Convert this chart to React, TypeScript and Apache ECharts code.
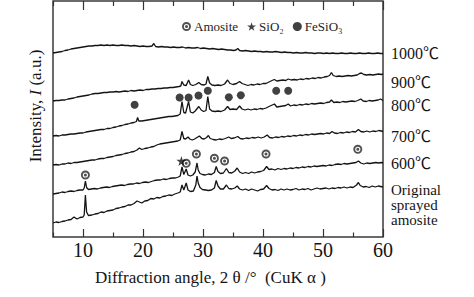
import React, { useEffect, useRef } from "react";
import * as echarts from "echarts";

// X-ray diffraction patterns of sprayed amosite heated to various temperatures.
// Each pattern is a list of [2θ (deg), intensity (a.u., stacked offset included)].

const original: number[][] = [
  [5, 14], [5.5, 15], [6, 14.5], [6.5, 15.5], [7, 16], [7.5, 17], [8, 17.5], [8.5, 20], [9, 18], [9.5, 19.5],
  [10, 20], [10.2, 22], [10.4, 42], [10.6, 25], [10.9, 21.5], [11.5, 22], [12, 23], [12.5, 23.5], [13, 25],
  [13.5, 24.5], [14, 26], [14.5, 26.5], [15, 27], [15.5, 28.5], [16, 29], [16.5, 30], [17, 30.5], [17.5, 32],
  [18, 32], [18.5, 33.5], [19, 36], [19.4, 35], [19.8, 34], [20.3, 36], [20.8, 36.5], [21.3, 38.5], [21.8, 38],
  [22.3, 39.5], [22.8, 39], [23.3, 40.5], [23.8, 41], [24.3, 42], [24.8, 41.5], [25.3, 43], [25.8, 44],
  [26.2, 45], [26.5, 52], [26.8, 47], [27.2, 54], [27.5, 47], [27.9, 45.5], [28.4, 46], [28.8, 52], [29.0, 61],
  [29.2, 54], [29.5, 49.5], [29.9, 47.5], [30.4, 47], [30.9, 46.5], [31.4, 47], [31.9, 49], [32.2, 56.5],
  [32.5, 51], [32.9, 48], [33.4, 48], [33.9, 52], [34.3, 48.5], [34.8, 48], [35.3, 49], [35.7, 51], [36.1, 48],
  [36.6, 47], [37.1, 48], [37.6, 46.5], [38.1, 48], [38.6, 47], [39.1, 46], [39.6, 47.5], [40.1, 48],
  [40.6, 51.5], [41.0, 48.5], [41.5, 47], [42, 47.5], [42.5, 46.5], [43, 48], [43.5, 47], [44, 48], [44.5, 47],
  [45, 47.5], [45.5, 48.5], [46, 47], [46.5, 48], [47, 47.5], [47.5, 48.5], [48, 47], [48.5, 48], [49, 49],
  [49.5, 48], [50, 48.5], [50.5, 49], [51, 48], [51.5, 49], [52, 48.5], [52.5, 49.5], [53, 49], [53.5, 50],
  [54, 49], [54.5, 50], [55, 49.5], [55.6, 52], [55.9, 54.5], [56.2, 51.5], [56.7, 50], [57.2, 50.5],
  [57.7, 49.5], [58.2, 51], [58.7, 50], [59.2, 51], [59.6, 50.5], [60, 50],
];

const t600: number[][] = [
  [5, 43], [5.5, 43.5], [6, 44], [6.5, 45], [7, 44.5], [7.5, 45.5], [8, 46], [8.5, 45.5], [9, 46.5], [9.5, 47],
  [10, 47], [10.2, 49], [10.4, 56], [10.6, 49.5], [10.9, 47.5], [11.4, 48], [11.9, 48.5], [12.4, 48], [12.9, 49],
  [13.4, 49.5], [13.9, 50], [14.4, 49.5], [14.9, 50.5], [15.4, 51], [15.9, 51.5], [16.4, 52], [16.9, 51.5],
  [17.4, 52.5], [17.9, 53], [18.4, 53], [18.9, 54], [19.4, 53.5], [19.9, 54.5], [20.4, 55], [20.9, 54.5],
  [21.4, 55.5], [21.9, 56.5], [22.4, 57], [22.9, 57], [23.4, 58], [23.9, 57.5], [24.4, 58.5], [24.9, 59],
  [25.4, 59], [25.9, 60], [26.2, 61], [26.5, 70], [26.8, 62.5], [27.2, 68], [27.5, 62], [27.9, 61], [28.3, 62],
  [28.7, 65], [29.0, 74], [29.2, 67], [29.5, 63.5], [29.9, 62.5], [30.4, 62], [30.9, 63], [31.4, 62.5],
  [31.9, 64.5], [32.2, 70.5], [32.5, 65.5], [32.9, 63.5], [33.4, 64], [33.9, 68.5], [34.3, 64.5], [34.8, 64],
  [35.3, 66], [35.7, 69], [36.1, 65], [36.6, 63.5], [37.1, 64.5], [37.6, 63.5], [38.1, 65], [38.6, 64],
  [39.1, 65], [39.6, 65.5], [40.1, 66.5], [40.6, 70.5], [41.0, 67.5], [41.5, 68], [42, 67], [42.5, 68.5],
  [43, 67.5], [43.5, 68.5], [44, 68], [44.5, 69], [45, 68.5], [45.5, 69.5], [46, 69], [46.5, 70], [47, 69.5],
  [47.5, 70.5], [48, 70], [48.5, 71], [49, 70.5], [49.5, 71], [50, 71.5], [50.5, 71], [51, 72], [51.5, 71.5],
  [52, 72.5], [52.5, 73], [53, 72.5], [53.5, 73.5], [54, 73], [54.5, 73.5], [55, 74], [55.5, 74.5], [55.9, 76],
  [56.3, 74], [56.8, 73], [57.3, 74], [57.8, 73.5], [58.3, 74], [58.8, 74.5], [59.3, 74], [59.7, 74.5], [60, 74],
];

const t700: number[][] = [
  [5, 72], [5.5, 72.5], [6, 72], [6.5, 73], [7, 73], [7.5, 74], [8, 73.5], [8.5, 74.5], [9, 74.5], [9.5, 75],
  [10, 75.5], [10.5, 76], [11, 76.5], [11.5, 77], [12, 77], [12.5, 78], [13, 78.5], [13.5, 78.5], [14, 79.5],
  [14.5, 80], [15, 80.5], [15.5, 81.5], [16, 82], [16.5, 82.5], [17, 83.5], [17.5, 84], [18, 85], [18.5, 85.5],
  [19, 87], [19.4, 89], [19.8, 87.5], [20.3, 88.5], [20.8, 89], [21.3, 90], [21.8, 90.5], [22.3, 92], [22.8, 93],
  [23.3, 93.5], [23.8, 94], [24.3, 94.5], [24.8, 95], [25.3, 95.5], [25.8, 96], [26.2, 97], [26.5, 105.5],
  [26.8, 98.5], [27.1, 98], [27.5, 100], [27.8, 98], [28.2, 97], [28.6, 98], [29.0, 99.5], [29.4, 101],
  [29.8, 98.5], [30.2, 98], [30.6, 99.5], [30.9, 101.5], [31.2, 98.5], [31.7, 97.5], [32.2, 97], [32.7, 98],
  [33.2, 97.5], [33.7, 98.5], [34.3, 100], [34.7, 98.5], [35.2, 99], [35.8, 100.5], [36.2, 98.5], [36.7, 98],
  [37.2, 99], [37.7, 98.5], [38.2, 99.5], [38.7, 99], [39.2, 100], [39.7, 99], [40.2, 100], [40.7, 102],
  [41.1, 99.5], [41.6, 99], [42.1, 100], [42.6, 99.5], [43.1, 100.5], [43.6, 100], [44.1, 101], [44.6, 100.5],
  [45.1, 101.5], [45.6, 101], [46.1, 102], [46.6, 101.5], [47.1, 102.5], [47.6, 102], [48.1, 103], [48.6, 102.5],
  [49.1, 103], [49.6, 103.5], [50.1, 103], [50.6, 104], [51.1, 103.5], [51.5, 105.5], [51.9, 104], [52.4, 103.5],
  [52.9, 104.5], [53.4, 104], [53.9, 105], [54.4, 104.5], [54.9, 105.5], [55.4, 105], [55.9, 107.5],
  [56.3, 105.5], [56.8, 105], [57.3, 106], [57.8, 105], [58.3, 106], [58.8, 105.5], [59.3, 106.5], [59.7, 106],
  [60, 105.5],
];

const t800: number[][] = [
  [5, 101], [5.5, 101.5], [6, 101], [6.5, 102], [7, 102], [7.5, 102.5], [8, 103], [8.5, 103], [9, 103.5],
  [9.5, 104], [10, 104], [10.5, 105], [11, 105.5], [11.5, 106], [12, 106.5], [12.5, 107], [13, 107.5],
  [13.5, 107.5], [14, 108.5], [14.5, 108.5], [15, 109.5], [15.5, 110], [16, 111], [16.5, 111.5], [17, 112.5],
  [17.5, 113], [18, 114], [18.5, 114.5], [18.9, 115.5], [19.1, 119.5], [19.3, 116], [19.8, 116], [20.3, 116.5],
  [20.8, 117], [21.3, 117.5], [21.8, 118], [22.3, 118.5], [22.8, 119], [23.3, 119.5], [23.8, 120], [24.3, 120.5],
  [24.8, 120.5], [25.3, 121], [25.8, 121.5], [26.2, 123], [26.5, 135.5], [26.8, 124.5], [27.1, 124],
  [27.6, 135.5], [27.9, 125], [28.3, 124], [28.7, 126], [29.3, 130.5], [29.7, 127], [30.1, 125.5], [30.5, 126.5],
  [30.8, 140.5], [31.1, 128], [31.5, 126], [32, 125.5], [32.5, 126], [33, 125.5], [33.6, 127], [34.1, 130.5],
  [34.5, 127.5], [35, 128], [35.6, 127.5], [36.1, 131], [36.5, 128], [37, 127], [37.5, 128], [38, 127],
  [38.5, 128], [39, 127.5], [39.5, 128.5], [40, 128], [40.5, 129], [41, 130.5], [41.9, 133], [42.3, 130],
  [42.8, 130.5], [43.3, 131], [43.8, 131.5], [44.2, 133], [44.6, 131], [45.1, 132], [45.6, 131.5], [46.1, 132.5],
  [46.6, 132], [47.1, 133], [47.6, 132.5], [48.1, 133.5], [48.6, 133], [49.1, 133.5], [49.6, 134], [50.1, 133.5],
  [50.6, 134.5], [51.1, 135], [51.4, 137], [51.8, 134.5], [52.3, 135], [52.8, 134.5], [53.3, 135.5], [53.8, 135],
  [54.3, 135.5], [54.8, 136], [55.3, 135.5], [55.8, 136.5], [56.3, 138], [56.7, 136], [57.2, 135.5],
  [57.7, 136.5], [58.2, 136], [58.7, 136.5], [59.2, 137], [59.6, 138], [60, 136.5],
];

const t900: number[][] = [
  [5, 136], [5.5, 136.5], [6, 136.5], [6.5, 137], [7, 137], [7.5, 138], [8, 138.5], [8.5, 139], [9, 140],
  [9.5, 140.5], [10, 141], [10.5, 141.5], [11, 142], [11.5, 143], [12, 143.5], [12.5, 143.5], [13, 144],
  [13.5, 144.5], [14, 144.5], [14.5, 145], [15, 145], [15.5, 145.5], [16, 145], [16.5, 145.5], [17, 146],
  [17.5, 145.5], [18, 146.5], [18.5, 146], [19, 146.5], [19.5, 147], [20, 146.5], [20.5, 147.5], [21, 147.5],
  [21.5, 148], [22, 148], [22.5, 148.5], [23, 148.5], [23.5, 149], [24, 149], [24.5, 149.5], [25, 149.5],
  [25.5, 150], [26, 150.5], [26.3, 151], [26.5, 155.5], [26.8, 152], [27.2, 151.5], [27.6, 157], [27.9, 152.5],
  [28.3, 151.5], [28.8, 152.5], [29.3, 154.5], [29.7, 152.5], [30.2, 152], [30.5, 153], [30.8, 160.5],
  [31.1, 154], [31.5, 152], [32, 151.5], [32.5, 152], [33, 151.5], [33.6, 153], [34.1, 157], [34.5, 153.5],
  [35, 152.5], [35.6, 153.5], [36.1, 155.5], [36.5, 153.5], [37, 152.5], [37.5, 151.5], [38, 152.5], [38.5, 152],
  [39, 153], [39.5, 152.5], [40, 153.5], [40.5, 153.5], [41, 155], [41.5, 156.5], [41.9, 157.5], [42.3, 156],
  [42.8, 156.5], [43.3, 157], [43.8, 156.5], [44.2, 158], [44.7, 157], [45.2, 157.5], [45.7, 157], [46.2, 158],
  [46.7, 157.5], [47.2, 158.5], [47.7, 158], [48.2, 159], [48.7, 158.5], [49.2, 159.5], [49.7, 159], [50.2, 160],
  [50.7, 160.5], [51.1, 161.5], [51.4, 164.5], [51.7, 161.5], [52.2, 160.5], [52.7, 161], [53.2, 160.5],
  [53.7, 161], [54.2, 161.5], [54.7, 161], [55.2, 161.5], [55.7, 162], [56.1, 163.5], [56.4, 164], [56.8, 162.5],
  [57.3, 162], [57.8, 162.5], [58.3, 162], [58.8, 162.5], [59.3, 163], [59.7, 162.5], [60, 163],
];

const t1000: number[][] = [
  [5, 184], [5.5, 184.5], [6, 185], [6.5, 185.5], [7, 186.5], [7.5, 187], [8, 188], [8.5, 188.5], [9, 189],
  [9.5, 189.5], [10, 190], [10.5, 190.5], [11, 191], [11.5, 191], [12, 191.5], [12.5, 191.5], [13, 192],
  [13.5, 191.5], [14, 192], [14.5, 191.5], [15, 192], [15.5, 191.5], [16, 191.5], [16.5, 192], [17, 191.5],
  [17.5, 191.5], [18, 191], [18.5, 191.5], [19, 191], [19.5, 190.5], [20, 191], [20.5, 190.5], [21, 190.5],
  [21.5, 191], [21.8, 193.5], [22.1, 190.5], [22.6, 190], [23.1, 190.5], [23.6, 190], [24.1, 190], [24.6, 189.5],
  [25.1, 190], [25.6, 189.5], [26.1, 189.5], [26.6, 190], [27.1, 189], [27.6, 189.5], [28.1, 189], [28.6, 189],
  [29.1, 189.5], [29.6, 188.5], [30.1, 189], [30.6, 188.5], [31.1, 188], [31.6, 188.5], [32.1, 188], [32.6, 187.5],
  [33.1, 188], [33.6, 187.5], [34.1, 187], [34.6, 187], [35.1, 186.5], [35.5, 187], [35.8, 188.5], [36.1, 186.5],
  [36.6, 186], [37.1, 186.5], [37.6, 186], [38.1, 185.5], [38.6, 186], [39.1, 185.5], [39.6, 185.5], [40.1, 185],
  [40.6, 185.5], [41.1, 185], [41.6, 185], [42.1, 185.5], [42.6, 185], [43.1, 184.5], [43.6, 185], [44.1, 184.5],
  [44.6, 184.5], [45.1, 184], [45.6, 184.5], [46.1, 184], [46.6, 184], [47.1, 184.5], [47.6, 184], [48.1, 184],
  [48.6, 183.5], [49.1, 184], [49.6, 184], [50.1, 183.5], [50.6, 184], [51.1, 183.5], [51.6, 184], [52.1, 183.5],
  [52.6, 183.5], [53.1, 184], [53.6, 183.5], [54.1, 183.5], [54.6, 184], [55.1, 183.5], [55.6, 183.5],
  [56.1, 184], [56.6, 183.5], [57.1, 183.5], [57.6, 184], [58.1, 183.5], [58.6, 183.5], [59.1, 184],
  [59.6, 183.5], [60, 183.5],
];

// Phase identification markers placed above the assigned reflections.
const amositePeaks: number[][] = [
  [10.4, 62], [27.2, 73.7], [28.9, 83], [31.9, 78.7], [33.6, 76], [40.5, 83], [55.8, 87.7],
];
const quartzPeaks: number[][] = [[26.4, 76]];
const fesio3Peaks: number[][] = [
  [18.6, 132.3], [26.1, 139.5], [27.6, 139.5], [29.25, 141.5], [30.8, 146.3],
  [34.3, 139.7], [36.3, 141.8], [42.2, 146.3], [44.2, 146.3],
];

const majorTicks = [10, 20, 30, 40, 50, 60];
const minorTicks = [5, 15, 25, 35, 45, 55];

const traces = [original, t600, t700, t800, t900, t1000];

const SERIF = "'Liberation Serif', 'Times New Roman', 'Noto Sans CJK JP', serif";
const INK = "#141414";

// Bull's-eye marker: filled outer disc, hollow ring, filled centre.
const AMOSITE_ICON =
  "path://M10,0A10,10,0,1,1,10,20A10,10,0,1,1,10,0ZM10,4.2A5.8,5.8,0,1,0,10,15.8A5.8,5.8,0,1,0,10,4.2ZM10,6.6A3.4,3.4,0,1,1,10,13.4A3.4,3.4,0,1,1,10,6.6Z";
const STAR_ICON = "path://M50,0L61,35L98,35L68,57L79,91L50,70L21,91L32,57L2,35L39,35Z";

const tickAxis = (position: "top" | "bottom", values: number[], length: number, labels: boolean) => ({
  type: "value",
  gridIndex: 0,
  position,
  min: 5,
  max: 60,
  axisLine: { show: false },
  splitLine: { show: false },
  axisTick: {
    show: true,
    inside: true,
    length,
    customValues: values,
    lineStyle: { color: "#333", width: 1.2 },
  },
  axisLabel: labels
    ? {
        show: true,
        customValues: values,
        margin: 3,
        fontFamily: SERIF,
        fontSize: 20,
        color: INK,
      }
    : { show: false },
});

export default function App() {
  const ref = useRef<HTMLDivElement>(null);

  useEffect(() => {
    document.body.style.margin = "0";
    const chart = echarts.init(ref.current!, null, { renderer: "svg" });

    const lineSeries = traces.map((data) => ({
      type: "line",
      data,
      xAxisIndex: 0,
      yAxisIndex: 0,
      showSymbol: false,
      symbol: "none",
      silent: true,
      lineStyle: { color: INK, width: 1.3 },
      z: 2,
    }));

    chart.setOption({
      animation: false,
      backgroundColor: "#fff",
      grid: {
        show: true,
        left: 53,
        right: 91,
        top: 1,
        bottom: 60,
        borderColor: "#3a3a3a",
        borderWidth: 1.5,
        backgroundColor: "transparent",
      },
      legend: {
        data: [
          { name: "Amosite", icon: AMOSITE_ICON },
          { name: "SiO₂", icon: STAR_ICON },
          { name: "FeSiO₃", icon: "circle" },
        ],
        left: 177,
        top: 15,
        itemWidth: 9,
        itemHeight: 9,
        itemGap: 9,
        selectedMode: false,
        textStyle: { fontFamily: SERIF, fontSize: 13, color: "#222", padding: [0, 0, 0, -2] },
      },
      xAxis: [
        tickAxis("bottom", majorTicks, 8, true),
        tickAxis("bottom", minorTicks, 4.5, false),
        tickAxis("top", majorTicks, 9, false),
        tickAxis("top", minorTicks, 5, false),
      ],
      yAxis: { type: "value", min: 0, max: 236, show: false },
      series: [
        ...lineSeries,
        {
          name: "Amosite",
          type: "scatter",
          data: amositePeaks,
          symbol: AMOSITE_ICON,
          symbolSize: 9,
          itemStyle: { color: "#262626" },
          silent: true,
          z: 3,
        },
        {
          name: "SiO₂",
          type: "scatter",
          data: quartzPeaks,
          symbol: STAR_ICON,
          symbolSize: 10,
          itemStyle: { color: "#111" },
          silent: true,
          z: 3,
        },
        {
          name: "FeSiO₃",
          type: "scatter",
          data: fesio3Peaks,
          symbol: "circle",
          symbolSize: 8,
          itemStyle: { color: "#111" },
          silent: true,
          z: 3,
        },
      ],
      graphic: [
        {
          type: "text",
          x: 35,
          y: 106,
          rotation: Math.PI / 2,
          style: {
            text: "Intensity, {i|I} (a.u.)",
            font: `17px ${SERIF}`,
            fill: INK,
            align: "center",
            verticalAlign: "middle",
            rich: { i: { fontStyle: "italic", fontSize: 17, fontFamily: SERIF, fill: INK } },
          },
        },
        {
          type: "text",
          x: 95,
          y: 277,
          style: {
            text: "Diffraction angle, 2 θ /°  (CuK α )",
            font: `17px ${SERIF}`,
            fill: INK,
            align: "left",
            verticalAlign: "middle",
          },
        },
        ...[
          { text: "1000℃", y: 53 },
          { text: "900℃", y: 82 },
          { text: "800℃", y: 105 },
          { text: "700℃", y: 136 },
          { text: "600℃", y: 163 },
        ].map((l) => ({
          type: "text",
          x: 391,
          y: l.y,
          style: { text: l.text, font: `16px ${SERIF}`, fill: INK, align: "left", verticalAlign: "middle" },
        })),
        {
          type: "text",
          x: 391,
          y: 182.5,
          style: {
            text: "Original\nsprayed\namosite",
            font: `15px ${SERIF}`,
            lineHeight: 15,
            fill: INK,
            align: "left",
            verticalAlign: "top",
          },
        },
      ],
    });

    return () => chart.dispose();
  }, []);

  return (
    <div
      ref={ref}
      style={{ position: "fixed", left: 0, top: 0, width: 474, height: 297, background: "#fff" }}
    />
  );
}
